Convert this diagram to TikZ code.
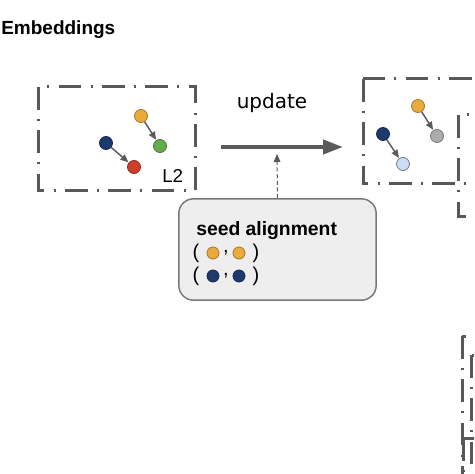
\documentclass[tikz,border=0pt]{standalone}
\usepackage{fontspec}
\setmainfont{Liberation Sans}
\newfontfamily\dejavu{DejaVu Sans}
\usetikzlibrary{arrows.meta}

\definecolor{framegray}{RGB}{88,88,88}
\definecolor{arrowgray}{RGB}{90,90,90}
\definecolor{seedfill}{RGB}{238,238,238}
\definecolor{seedline}{RGB}{120,120,120}
\definecolor{embyellow}{RGB}{234,170,60}
\definecolor{embgreen}{RGB}{100,172,76}
\definecolor{embred}{RGB}{206,62,40}
\definecolor{embblue}{RGB}{30,58,108}
\definecolor{embgray}{RGB}{172,172,172}
\definecolor{emblight}{RGB}{204,221,248}

\begin{document}
\begin{tikzpicture}[x=0.75pt,y=0.75pt,yscale=-1,xscale=1,
  emb/.style={circle,inner sep=0pt,minimum size=9.75pt,line width=0.6pt},
  dashdot frame/.style={draw=framegray,line width=2.25pt,dash pattern={on 17pt off 7pt on 1.5pt off 7pt}},
  move/.style={draw=arrowgray,line width=1.1pt,-{Triangle[length=6pt,width=5pt]},shorten >=0.3pt},
  label text/.style={inner sep=0pt,font=\fontsize{14}{16}\selectfont}]

\useasboundingbox (0,0) rectangle (474,474);
\clip (0,0) rectangle (474,474);

% Text Node
\node (title) [anchor=base west,inner sep=0pt,font=\fontsize{14.25}{17}\selectfont\bfseries] at (1,35) {Embeddings};

%Dash dot frames
\draw [dashdot frame] (38,87) rectangle (195,190);
\draw [dashdot frame] (363,79) rectangle (530,183);
\draw [dashdot frame] (458,115) rectangle (530,216);
\draw [dashdot frame] (462,336) rectangle (530,530);
\draw [dashdot frame] (471,355) rectangle (530,530);
\draw [dashdot frame] (463,438) rectangle (530,530);

%Embeddings before update
\node (lY) [emb,fill=embyellow,draw=embyellow!70!black] at (141,116) {};
\node (lG) [emb,fill=embgreen,draw=embgreen!70!black] at (160,146) {};
\node (lB) [emb,fill=embblue,draw=embblue!70!black] at (106,143) {};
\node (lR) [emb,fill=embred,draw=embred!70!black] at (134,167) {};
\draw [move] (lY) -- (lG);
\draw [move] (lB) -- (lR);
% Text Node
\node (l2) [label text,anchor=base west] at (162,182) {L2};

%Embeddings after update
\node (rY) [emb,fill=embyellow,draw=embyellow!70!black] at (418,106) {};
\node (rGr) [emb,fill=embgray,draw=embgray!70!black] at (437,136) {};
\node (rB) [emb,fill=embblue,draw=embblue!70!black] at (383,134) {};
\node (rLB) [emb,fill=emblight,draw=emblight!55!black] at (403,164) {};
\draw [move] (rY) -- (rGr);
\draw [move] (rB) -- (rLB);

%Update arrow
\coordinate (updS) at (221,147);
\coordinate (updE) at (343,147);
\draw [draw=arrowgray,line width=3pt,-{Triangle[length=15pt,width=10.5pt]}] (updS) -- (updE);
% Text Node
\node (updLabel) [anchor=base,inner sep=0pt,font=\dejavu\fontsize{15}{18}\selectfont] at (272,109) {update};

%Seed alignment box
\node (seed) [draw=seedline,fill=seedfill,line width=1.1pt,rounded corners=11pt,minimum width=148pt,minimum height=76pt] at (277.5,249.5) {};
\node (seedTitle) [anchor=base west,inner sep=0pt,font=\fontsize{14.5}{17}\selectfont\bfseries] at (196,235) {seed alignment};
\foreach \row/\yy/\col in {1/253/embyellow,2/276/embblue}{
  \node (open\row) [label text,font=\fontsize{15}{17}\selectfont] at (196,\yy) {(};
  \node (s\row a) [emb,minimum size=9pt,fill=\col,draw=\col!70!black] at (213,\yy) {};
  \node (comma\row) [label text,font=\fontsize{15}{17}\selectfont] at (226,\yy) {,};
  \node (s\row b) [emb,minimum size=9pt,fill=\col,draw=\col!70!black] at (239,\yy) {};
  \node (close\row) [label text,font=\fontsize{15}{17}\selectfont] at (256,\yy) {)};
}

%Seed feeds the update
\coordinate (updHit) at (277,154);
\draw [draw=arrowgray,line width=0.75pt,dash pattern={on 3pt off 2pt},-{Triangle[length=6pt,width=5pt]}] (seed.north) -- (updHit);

\end{tikzpicture}
\end{document}
